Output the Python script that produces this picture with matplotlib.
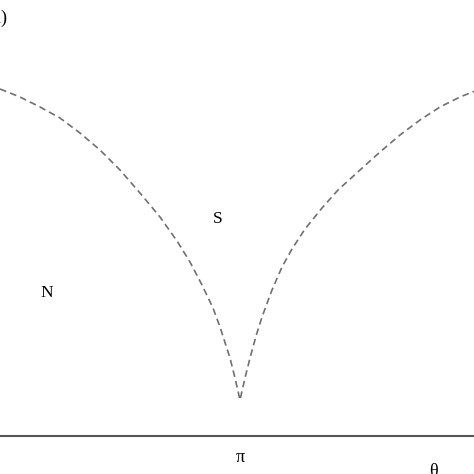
import matplotlib
matplotlib.use("Agg")
import matplotlib.pyplot as plt
import numpy as np

plt.rcParams['font.family'] = ['Liberation Serif', 'DejaVu Serif']

# boundary between N and S phases, theta in units of pi
theta_left = [0.0, 0.0833, 0.1667, 0.25, 0.3333, 0.4167, 0.5, 0.5833, 0.6667,
              0.7375, 0.7917, 0.8417, 0.8875, 0.9167, 0.9583, 0.9792, 1.0]
y_left = [0.8675, 0.8475, 0.8225, 0.795, 0.7575, 0.715, 0.665, 0.6075, 0.5475,
          0.4875, 0.435, 0.3775, 0.32, 0.2725, 0.195, 0.145, 0.09]

theta_right = [1.0, 1.0208, 1.0417, 1.0667, 1.0917, 1.1333, 1.175, 1.2167, 1.2708,
               1.3417, 1.4083, 1.5, 1.5833, 1.6667, 1.75, 1.8333, 1.9167, 2.0]
y_right = [0.09, 0.145, 0.195, 0.25, 0.2975, 0.365, 0.4225, 0.4675, 0.5175,
           0.57, 0.615, 0.665, 0.71, 0.7525, 0.79, 0.8225, 0.8475, 0.8675]

tick_pos = [1.0]
tick_labels = ["π"]

W = 474
fig = plt.figure(figsize=(4.74, 4.74), dpi=100)
ax = fig.add_axes([0, 38 / W, 480 / W, 400 / W])

th = np.pi * np.array(theta_left + theta_right[1:])
yy = np.array(y_left + y_right[1:])
ax.plot(th, yy, color='#707070', lw=1.2, ls=(0, (4, 2.5)))

ax.set_xlim(0, 2 * np.pi)
ax.set_ylim(0, 1)
for s in ['top', 'right', 'left']:
    ax.spines[s].set_visible(False)
ax.spines['bottom'].set_color('#555555')
ax.spines['bottom'].set_linewidth(1.5)
ax.set_yticks([])
ax.set_xticks([np.pi * t for t in tick_pos])
ax.set_xticklabels(tick_labels, fontsize=13)
ax.tick_params(axis='x', length=0, pad=9)

ax.text(218 / 480 * 2 * np.pi, (436 - 219) / 400, "S", fontsize=12.5, ha='center', va='center')
ax.text(47 / 480 * 2 * np.pi, (436 - 293) / 400, "N", fontsize=12.5, ha='center', va='center')

fig.text(433 / W, 1 - 472 / W, "θ", fontsize=13, ha='center', va='center')
fig.text(7 / W, 1 - 18 / W, "(a)", fontsize=13, ha='right', va='center')

fig.savefig("out.png", dpi=100)
